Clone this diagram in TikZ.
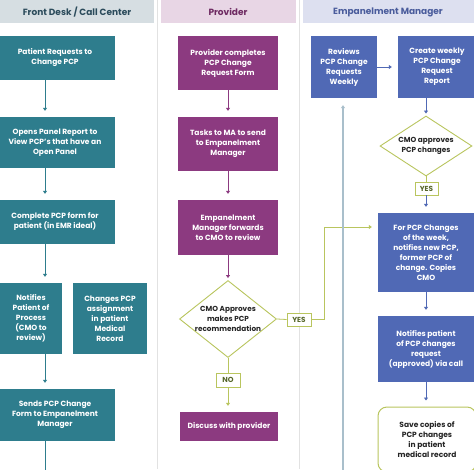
\documentclass[tikz,border=0pt]{standalone}
\usepackage{fontspec}
\setmainfont{Poppins}
\usetikzlibrary{arrows.meta,shapes.geometric,calc}
\definecolor{tealc}{HTML}{2E7D8D}
\definecolor{purc}{HTML}{8C3A80}
\definecolor{bluec}{HTML}{5069B5}
\definecolor{olivec}{HTML}{B9C55E}
\definecolor{olivet}{HTML}{56662A}
\definecolor{hdA}{HTML}{D6DEE2}
\definecolor{hdB}{HTML}{E8D6E5}
\definecolor{hdC}{HTML}{DDE0F0}
\definecolor{htA}{HTML}{2B4B5B}
\definecolor{htB}{HTML}{6E2A62}
\definecolor{htC}{HTML}{4A5C9C}
\definecolor{sepc}{HTML}{E2E2E2}
\definecolor{steelc}{HTML}{A9BFCB}
\definecolor{darkt}{HTML}{262626}
\begin{document}
\begin{tikzpicture}[x=1pt,y=-1pt,
  boxbase/.style={draw=none, inner sep=1pt, align=center, text=white,
    font=\bfseries\fontsize{7.5}{10}\selectfont},
  tbox/.style={boxbase, fill=tealc},
  pbox/.style={boxbase, fill=purc},
  bbox/.style={boxbase, fill=bluec},
  hdr/.style={font=\bfseries\fontsize{9}{10}\selectfont},
  tagbox/.style={draw=olivec, fill=white, line width=0.8pt, inner sep=0pt,
    text=olivet, font=\bfseries\fontsize{7.3}{8}\selectfont},
  dshape/.style={diamond, draw=olivec, fill=white, line width=0.9pt, inner sep=0pt},
  dtext/.style={align=center, text=darkt, inner sep=0pt, font=\bfseries\fontsize{7.3}{10}\selectfont},
  tip/.style={-{Triangle[width=4pt,length=3pt]}},
  arrT/.style={draw=tealc, line width=0.8pt, tip, shorten >=6pt},
  arrP/.style={draw=purc, line width=0.8pt, tip, shorten >=6pt},
  arrB/.style={draw=bluec, line width=0.8pt, tip, shorten >=6pt},
  lineO/.style={draw=olivec, line width=0.8pt},
  arrO/.style={lineO, tip, shorten >=6pt}]
\useasboundingbox (0,0) rectangle (474,469);
\clip (0,0) rectangle (474,469);
\fill[white] (0,0) rectangle (474,469);
% lanes
\fill[hdA] (0,0) rectangle (154,23);
\fill[hdB] (161,0) rectangle (296,23);
\fill[hdC] (303,0) rectangle (474,23);
\draw[sepc, line width=0.8pt] (157.5,0) -- (157.5,469);
\draw[sepc, line width=0.8pt] (299.5,0) -- (299.5,469);
\node[hdr, text=htA] (h1) at (77,12) {Front Desk / Call Center};
\node[hdr, text=htB] (h2) at (228,12) {Provider};
\node[hdr, text=htC] (h3) at (388,12) {Empanelment Manager};
% column coordinates
\coordinate (ax) at (45,0);
\coordinate (px) at (228,0);
\coordinate (ex) at (426,0);
% lane 1
\node[tbox, minimum width=120pt, minimum height=44pt] (b1) at (55,58) {Patient Requests to\\Change PCP};
\node[tbox, minimum width=120pt, minimum height=51pt] (b2) at (55,142.5) {Opens Panel Report to\\View PCP’s that have an\\Open Panel};
\node[tbox, minimum width=120pt, minimum height=44pt] (b3) at (55,222) {Complete PCP form for\\patient (in EMR ideal)};
\node[tbox, minimum width=62pt, minimum height=71pt] (b4) at (31,318.5) {Notifies\\Patient of\\Process\\(CMO to\\review)};
\node[tbox, minimum width=74pt, minimum height=71pt] (b5) at (110,318.5) {Changes PCP\\assignment\\in patient\\Medical\\Record};
\node[tbox, minimum width=120pt, minimum height=52pt] (b6) at (55,415) {Sends PCP Change\\Form to Empanelment\\Manager};
\coordinate (bend1) at (45,480);
\draw[arrT] (b1.south -| ax) -- (b2.north -| ax);
\draw[arrT] (b2.south -| ax) -- (b3.north -| ax);
\draw[arrT] (b3.south -| ax) -- (b4.north -| ax);
\draw[arrT] (b4.south -| ax) -- (b6.north -| ax);
\draw[tealc, line width=0.8pt] (b6.south -| ax) -- (bend1);
% lane 2
\node[pbox, minimum width=100pt, minimum height=54pt] (p1) at (228,63) {Provider completes\\PCP Change\\Request Form};
\node[pbox, minimum width=100pt, minimum height=54pt] (p2) at (228,144) {Tasks to MA to send\\to Empanelment\\Manager};
\node[pbox, minimum width=100pt, minimum height=55pt] (p3) at (228,227.5) {Empanelment\\Manager forwards\\to CMO to review};
\node[dshape, minimum width=97pt, minimum height=77pt] (d1) at (228,319) {};
\node[dtext] (d1t) at (d1.center) {CMO Approves\\makes PCP\\recommendation};
\node[tagbox, minimum width=24pt, minimum height=14pt] (no) at (228,380) {NO};
\node[pbox, minimum width=98pt, minimum height=29pt] (pd) at (229,426.5) {Discuss with provider};
\node[tagbox, minimum width=24pt, minimum height=13pt] (y1) at (299,319.5) {YES};
\draw[arrP] (p1) -- (p2);
\draw[arrP] (p2) -- (p3);
\draw[arrP, shorten >=2pt] (p3) -- (d1);
\draw[lineO] (d1.south) -- (no.north);
\draw[arrO] (no.south) -- (pd.north -| no);
\draw[lineO] (d1.east) -- (y1.west);
% lane 3
\node[bbox, minimum width=66pt, minimum height=62pt] (e1) at (344,67) {Reviews\\PCP Change\\Requests\\Weekly};
\node[bbox, minimum width=78pt, minimum height=62pt] (e2) at (437,67) {Create weekly\\PCP Change\\Request\\Report};
\node[dshape, minimum width=92pt, minimum height=60pt] (d2) at (426,146) {};
\node[dtext] (d2t) at (d2.center) {CMO approves\\PCP changes};
\node[tagbox, minimum width=23pt, minimum height=13pt] (y2) at (426.5,188.5) {YES};
\node[bbox, minimum width=96pt, minimum height=79pt] (e3) at (426,252.5) {For PCP Changes\\of the week,\\notifies new PCP,\\former PCP of\\change. Copies\\CMO};
\node[bbox, minimum width=96pt, minimum height=66pt] (e4) at (426,349) {Notifies patient\\of PCP changes\\request\\(approved) via call};
\node[draw=olivec, fill=white, line width=1pt, rounded corners=9pt, minimum width=98pt,
  minimum height=65pt, align=center, text=darkt, inner sep=1pt,
  font=\bfseries\fontsize{7.5}{10}\selectfont] (e5) at (427,439.5) {Save copies of\\PCP changes\\in patient\\medical record};
\draw[arrB] (e1.east) -- (e1.east -| e2.west);
\draw[arrB, shorten >=2pt] (e2.south -| ex) -- (d2.north);
\draw[lineO] (d2.south) -- (y2.north -| d2);
\draw[arrB] (y2.south -| d2) -- (e3.north -| d2);
\draw[arrB] (e3.south) -- (e4.north);
\draw[arrB] (e4.south) -- (e5.north -| e4);
% yes path from provider diamond
\coordinate (yc) at (324,227);
\draw[arrO] (y1.east) -| (yc) -- (yc -| e3.west);
% feed line to reviews
\coordinate (bend2) at (343,480);
\draw[steelc, line width=1.2pt, tip, shorten >=7pt] (bend2) -- (bend2 |- e1.south);
\end{tikzpicture}
\end{document}
